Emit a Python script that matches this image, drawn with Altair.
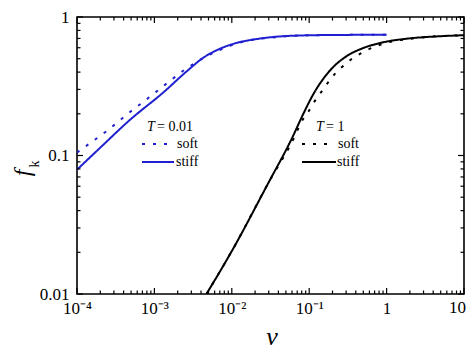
import altair as alt
import pandas as pd

# ---------------- data ----------------
blue_stiff_x = [1e-4, 2e-4, 4.84e-4, 1.3e-3, 2.61e-3, 4.28e-3, 7.05e-3, 1.156e-2, 2.1e-2, 4.2e-2, 0.113, 0.35, 1.0]
blue_stiff_y = [0.079, 0.114, 0.181, 0.285, 0.405, 0.508, 0.590, 0.650, 0.693, 0.724, 0.739, 0.743, 0.744]

blue_soft_x = [1e-4, 1.2e-4, 2.45e-4, 4.84e-4, 8.95e-4, 1.24e-3, 1.72e-3, 2.41e-3, 3.41e-3, 4.82e-3,
               6.68e-3, 9.48e-3, 1.315e-2, 1.84e-2, 2.55e-2, 5e-2, 0.15, 1.0]
blue_soft_y = [0.105, 0.113, 0.151, 0.206, 0.268, 0.310, 0.358, 0.413, 0.468, 0.525,
               0.572, 0.620, 0.657, 0.686, 0.701, 0.725, 0.740, 0.746]

black_stiff_x = [4.7e-3, 9.8e-3, 2.95e-2, 5.94e-2, 8.4e-2, 0.113, 0.152, 0.205, 0.305, 0.50, 0.908, 2.0, 4.4, 10.0]
black_stiff_y = [0.01, 0.020, 0.063, 0.132, 0.200, 0.277, 0.358, 0.436, 0.522, 0.597, 0.657, 0.701, 0.724, 0.739]

black_soft_x = [4.7e-3, 9.8e-3, 2.95e-2, 0.0668, 0.0783, 0.0975, 0.119, 0.149, 0.191, 0.255, 0.354, 0.485,
                0.687, 0.953, 1.35, 1.87, 2.6, 3.63, 10.0]
black_soft_y = [0.01, 0.020, 0.063, 0.142, 0.173, 0.207, 0.249, 0.296, 0.360, 0.427, 0.497, 0.553,
                0.607, 0.647, 0.675, 0.693, 0.708, 0.720, 0.738]

series_names = ["T=0.01 soft", "T=0.01 stiff", "T=1 soft", "T=1 stiff"]
series_colors = ["#2020d0", "#2020d0", "#000000", "#000000"]
series_dashes = [[3, 8], [1, 0], [3, 8], [1, 0]]

x_major = [1e-4, 1e-3, 1e-2, 1e-1, 1.0, 10.0]
x_minor = [k * 10.0 ** n for n in range(-4, 1) for k in range(2, 10)]
x_tick_labels = ["10⁻⁴", "10⁻³", "10⁻²", "10⁻¹", "1", "10"]

y_major = [0.01, 0.1, 1.0]
y_minor = [k * 10.0 ** n for n in range(-2, 0) for k in range(2, 10)]
y_tick_labels = ["0.01", "0.1", "1"]

# ---------------- build ----------------
rows = []
for name, xs, ys in zip(series_names,
                        [blue_soft_x, blue_stiff_x, black_soft_x, black_stiff_x],
                        [blue_soft_y, blue_stiff_y, black_soft_y, black_stiff_y]):
    for xv, yv in zip(xs, ys):
        rows.append({"series": name, "x": xv, "y": yv})
df = pd.DataFrame(rows)

W, H = 387, 277
FONT = "Liberation Serif"
BLUE = series_colors[0]

xscale = alt.Scale(type="log", domain=[1e-4, 10], nice=False)
yscale = alt.Scale(type="log", domain=[0.01, 1], nice=False)


def label_expr(values, labels):
    expr = "'%s'" % labels[-1]
    for v, lab in reversed(list(zip(values[:-1], labels[:-1]))):
        expr = "datum.value < %g ? '%s' : (%s)" % (v * 3, lab, expr)
    return expr


x_axis = alt.Axis(
    values=x_major[:-1], labelExpr=label_expr(x_major[:-1], x_tick_labels[:-1]),
    ticks=False, domain=False, grid=False,
    labelFont=FONT, labelFontSize=17, labelColor="black", labelPadding=6,
    labelFlush=False, labelOverlap=False, title=None)
y_axis = alt.Axis(
    values=y_major, labelExpr=label_expr(y_major, y_tick_labels),
    ticks=False, domain=False, grid=False,
    labelFont=FONT, labelFontSize=17, labelColor="black", labelPadding=8,
    labelFlush=False, labelOverlap=False, title=None)

lines = alt.Chart(df).mark_line(clip=True, strokeWidth=2, strokeCap="butt", interpolate="monotone").encode(
    x=alt.X("x:Q", scale=xscale, axis=x_axis),
    y=alt.Y("y:Q", scale=yscale, axis=y_axis),
    color=alt.Color("series:N", scale=alt.Scale(domain=series_names, range=series_colors), legend=None),
    strokeDash=alt.StrokeDash("series:N", scale=alt.Scale(domain=series_names, range=series_dashes), legend=None),
)

xmaj = pd.DataFrame({"x": x_major})
xmin = pd.DataFrame({"x": x_minor})
ymaj = pd.DataFrame({"y": y_major})
ymin = pd.DataFrame({"y": y_minor})


def xticks(d, y1, y2):
    return alt.Chart(d).mark_rule(color="black", strokeWidth=1.2).encode(
        x=alt.X("x:Q", scale=xscale, axis=x_axis), y=alt.value(y1), y2=alt.value(y2))


def yticks(d, x1, x2):
    return alt.Chart(d).mark_rule(color="black", strokeWidth=1.2).encode(
        y=alt.Y("y:Q", scale=yscale, axis=y_axis), x=alt.value(x1), x2=alt.value(x2))


MAJ, MIN = 6, 3.5
ticks = [
    xticks(xmaj, H, H - MAJ), xticks(xmin, H, H - MIN),
    xticks(xmaj, 0, MAJ), xticks(xmin, 0, MIN),
    yticks(ymaj, 0, MAJ), yticks(ymin, 0, MIN),
    yticks(ymaj, W, W - MAJ), yticks(ymin, W, W - MIN),
]

one = pd.DataFrame({"a": [0]})


def txt(s, x, y, size=14, style="normal", align="left", baseline="middle", angle=0, color="black"):
    return alt.Chart(one).mark_text(
        font=FONT, fontSize=size, fontStyle=style, align=align, baseline=baseline,
        angle=angle, color=color).encode(x=alt.value(x), y=alt.value(y), text=alt.value(s))


def sample(x1, x2, y, color, dash):
    return alt.Chart(one).mark_rule(color=color, strokeWidth=2, strokeDash=dash, strokeCap="butt").encode(
        x=alt.value(x1), x2=alt.value(x2), y=alt.value(y))


legend = [
    txt("T", 70, 110, style="italic"), txt("= 0.01", 80, 110),
    sample(65, 91, 127, BLUE, [3, 8]), txt("soft", 100, 127),
    sample(65, 97, 145, BLUE, [1, 0]), txt("stiff", 99, 145),
    txt("T", 239, 110, style="italic"), txt("= 1", 249, 110),
    sample(225, 251, 127, "black", [3, 8]), txt("soft", 261, 127),
    sample(225, 259, 145, "black", [1, 0]), txt("stiff", 260, 145),
]

last_label = alt.Chart(pd.DataFrame({"x": [x_major[-1]]})).mark_text(
    font=FONT, fontSize=17, align="right", baseline="top", dx=2, color="black").encode(
    x=alt.X("x:Q", scale=xscale, axis=x_axis), y=alt.value(H + 6), text=alt.value(x_tick_labels[-1]))

titles = [
    txt("ν", 195, H + 51, size=26, style="italic", align="center", baseline="alphabetic"),
    txt("f", -47, 156, size=24, style="italic", align="center", baseline="alphabetic", angle=270),
    txt("k", -38, 147, size=14, align="center", baseline="alphabetic", angle=270),
]

chart = alt.layer(lines, *ticks, *legend, last_label, *titles).properties(
    width=W, height=H,
    autosize=alt.AutoSizeParams(type="none"),
    padding={"left": 69, "top": 9, "right": 2, "bottom": 60},
).configure_view(stroke="black", strokeWidth=1.6)

chart.save("out.html", embed_options={"renderer": "svg", "actions": False})
